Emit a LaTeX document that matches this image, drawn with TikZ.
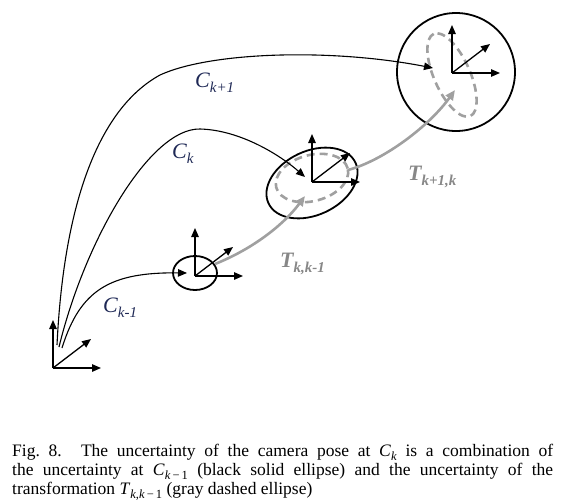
\documentclass[tikz,border=0pt]{standalone}
\usepackage{fontspec}
\setmainfont{Liberation Serif}
\usetikzlibrary{arrows.meta,shapes.geometric}
\definecolor{lab}{RGB}{30,40,85}
\definecolor{tgray}{RGB}{160,160,160}
\definecolor{lgray}{RGB}{135,135,135}
\newcommand\lsub[1]{\raisebox{-5pt}{\fontsize{15}{15}\selectfont #1}}
\newcommand\capsub[1]{\raisebox{-0.22em}{\fontsize{12.5}{12.5}\selectfont #1}}
\newcommand\mkframe[1]{%
  \draw[axis] (#1) -- ++(0,48);
  \draw[axis] (#1) -- ++(48,0);
  \draw[axis] (#1) -- ++(38,29);}
\tikzset{
  axis/.style={line width=1.3pt, -{Triangle[length=9pt,width=7.5pt]}},
  traj/.style={line width=1.1pt, -{Triangle[length=9pt,width=7.5pt]}},
  trans/.style={line width=2.6pt, draw=tgray, -{Triangle[length=10pt,width=8.5pt]}},
  unc/.style={draw, line width=1.8pt, inner sep=0, outer sep=0},
  tunc/.style={draw=tgray, line width=2.6pt, dash pattern=on 8pt off 5pt, inner sep=0, outer sep=0},
  clabel/.style={text=lab, font=\fontsize{22}{22}\selectfont\itshape, inner sep=0, anchor=base west},
  tlabel/.style={text=lgray, font=\fontsize{22}{22}\selectfont\itshape\bfseries, inner sep=0, anchor=base west},
}
\begin{document}
\begin{tikzpicture}[x=1pt,y=1pt]
\useasboundingbox (0,0) rectangle (563,-504);
% frame origins
\coordinate (o0) at (53,-368);
\coordinate (o1) at (195,-276);
\coordinate (o2) at (312,-182);
\coordinate (o3) at (452,-73);
% trajectory start points and ends
\coordinate (s1) at (62,-348);
\coordinate (s2) at (59,-347);
\coordinate (s3) at (57,-345);
\coordinate (e1) at (187,-273);
\coordinate (e2) at (305,-177);
\coordinate (e3) at (433,-68);
% uncertainty shapes
\node[unc, ellipse, minimum width=44, minimum height=34] (u1) at (195,-273) {};
\node[unc, ellipse, minimum width=96, minimum height=64, rotate=25] (u2) at (312,-183) {};
\node[unc, circle, minimum size=118] (u3) at (456,-72) {};
\node[tunc, ellipse, minimum width=74, minimum height=46, rotate=15] (g2) at (312,-178) {};
\node[tunc, ellipse, minimum width=90, minimum height=36, rotate=114] (g3) at (452,-75) {};
% transformation ends
\coordinate (t1s) at (215,-264);
\coordinate (t1e) at (305,-196);
\coordinate (t2s) at (348,-170);
\coordinate (t2e) at (455,-90);
% trajectories
\draw[traj] (s1) .. controls (80,-290) and (110,-272) .. (e1);
\draw[traj] (s2) .. controls (85,-240) and (150,-128) .. (200,-129)
                 .. controls (240,-130) and (280,-155) .. (e2);
\draw[traj] (s3) .. controls (64,-200) and (100,-108) .. (160,-75)
                 .. controls (210,-52) and (330,-48) .. (e3);
% transformations
\draw[trans] (t1s) .. controls (255,-248) and (285,-223) .. (t1e);
\draw[trans] (t2s) .. controls (385,-160) and (430,-125) .. (t2e);
% frames
\mkframe{o0}
\mkframe{o1}
\mkframe{o2}
\mkframe{o3}
% labels
\node[clabel] (lk1) at (195,-87) {C\lsub{k+1}};
\node[clabel] (lk) at (172,-158) {C\lsub{k}};
\node[clabel] (lkm) at (103,-312) {C\lsub{k-1}};
\node[tlabel] (ltk) at (280,-267) {T\lsub{k,k-1}};
\node[tlabel] (ltk1) at (408,-180) {T\lsub{k+1,k}};
% caption
\node[anchor=north west, text width=541pt, align=justify, inner sep=0,
      font=\fontsize{17.5}{19}\selectfont] (cap) at (12,-444)
  {Fig.~8.\hspace{1.1em}The uncertainty of the camera pose at \textit{C}\capsub{\textit{k}} is a combination of\linebreak
   the uncertainty at \textit{C}\capsub{\textit{k}\,−\,1} (black solid ellipse) and the uncertainty of the\linebreak
   transformation \textit{T}\capsub{\textit{k},\textit{k}\,−\,1} (gray dashed ellipse)};
\end{tikzpicture}
\end{document}
